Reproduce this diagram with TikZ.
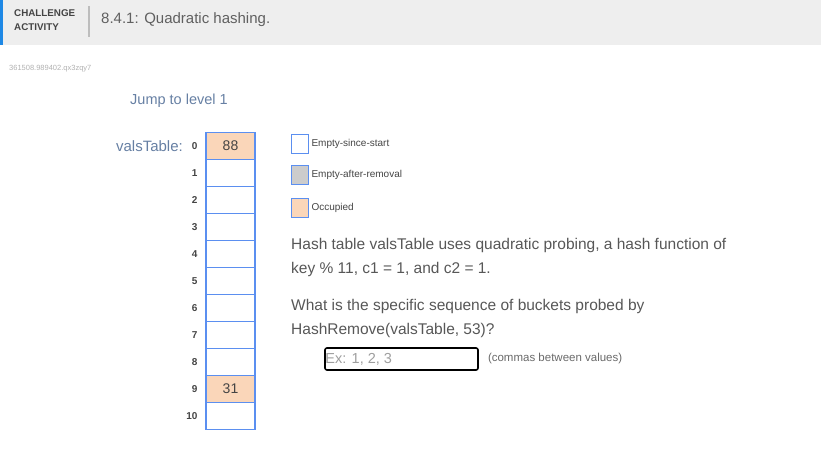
\documentclass[tikz,border=0pt]{standalone}
\usepackage{fontspec}
\setmainfont{Liberation Sans}
\usepackage{tikz}
\usetikzlibrary{positioning}
\definecolor{hdrgray}{HTML}{EEEEEE}
\definecolor{accent}{HTML}{1E88E5}
\definecolor{sepgray}{HTML}{BDBDBD}
\definecolor{cellblue}{HTML}{5B8FF0}
\definecolor{peach}{HTML}{FAD6B9}
\definecolor{removed}{HTML}{CCCCCC}
\definecolor{txtdark}{HTML}{444444}
\definecolor{txtlight}{HTML}{9E9E9E}
\definecolor{tblabel}{HTML}{667FA3}
\tikzstyle{cell} = [rectangle, draw=cellblue, line width=1.2pt, minimum width=49pt, minimum height=27pt, inner sep=0pt, text=txtdark, font=\fontsize{14}{16}\selectfont]
\tikzstyle{idx} = [anchor=east, text=txtdark, font=\bfseries\fontsize{10}{12}\selectfont]
\tikzstyle{legbox} = [rectangle, draw=cellblue, line width=1.6pt, minimum width=17pt, minimum height=19pt, inner sep=0pt]
\tikzstyle{legtext} = [anchor=west, inner sep=1pt, text=txtdark, font=\fontsize{10}{12}\selectfont]
\tikzstyle{para} = [anchor=west, align=left, inner sep=0pt, text=txtdark!90, font=\fontsize{15.5}{24}\selectfont]
\tikzstyle{every node}=[font=\normalsize]

\begin{document}
\begin{tikzpicture}[x=1pt, y=-1pt, node distance=4pt]
		\useasboundingbox (0,0) rectangle (821,450);
		%header
		\fill[hdrgray] (0,0) rectangle (821,45);
		\fill[accent] (0,0) rectangle (3,45);
		\node (kind) [anchor=west, align=left, inner sep=0pt, text=txtdark, font=\bfseries\fontsize{9.8}{14}\selectfont] at (14,20) {CHALLENGE\\ACTIVITY};
		\draw[sepgray, line width=2pt] (89,6) -- (89,37);
		\node (title) [anchor=west, inner sep=0pt, text=txtdark!85, font=\fontsize{15}{17}\selectfont] at (101,20) {8.4.1: Quadratic hashing.};
		\node (code) [anchor=west, inner sep=0pt, text=txtlight!80, font=\fontsize{7.5}{9}\selectfont] at (9,69) {361508.989402.qx3zqy7};
		\node (jump) [anchor=west, inner sep=0pt, text=tblabel, font=\fontsize{14.5}{16}\selectfont] at (130,101) {Jump to level 1};
		
		%table
		\foreach \i in {0,...,10}{
			\node (c\i) [cell] at (230.5, 146+27*\i) {};
			\node (n\i) [idx] at (201, 146+27*\i) {\i};
		}
		\node [cell, fill=peach] at (c0) {88};
		\node [cell, fill=peach] at (c9) {31};
		\node (tbl) [anchor=east, inner sep=0pt, text=tblabel, font=\fontsize{15}{17}\selectfont] at (183,146) {valsTable:};
		
		%legend
		\node (lg1) [legbox, fill=white] at (300,144) {};
		\node (lg2) [legbox, fill=removed] at (300,175) {};
		\node (lg3) [legbox, fill=peach] at (300,208) {};
		\node (lt1) [legtext, right=1pt of lg1] {Empty-since-start};
		\node (lt2) [legtext, right=1pt of lg2] {Empty-after-removal};
		\node (lt3) [legtext, right=1pt of lg3] {Occupied};
		
		%question
		\node (q1) [para] at (291,257) {Hash table valsTable uses quadratic probing, a hash function of\\key \% 11, c1 = 1, and c2 = 1.};
		\node (q2) [para] at (291,318) {What is the specific sequence of buckets probed by\\HashRemove(valsTable, 53)?};
		\node (ans) [draw=black, rounded corners=2pt, line width=1.6pt, minimum width=153pt, minimum height=22pt, inner sep=0pt] at (401.5,359) {};
		\node (hint) [anchor=west, inner sep=1pt, text=txtlight, font=\fontsize{14.5}{16}\selectfont] at (ans.west) {Ex: 1, 2, 3};
		\node (note) [anchor=west, inner sep=0pt, text=txtdark!80, font=\fontsize{11.5}{13}\selectfont, right=9pt of ans] {(commas between values)};
		
\end{tikzpicture}
\end{document}
